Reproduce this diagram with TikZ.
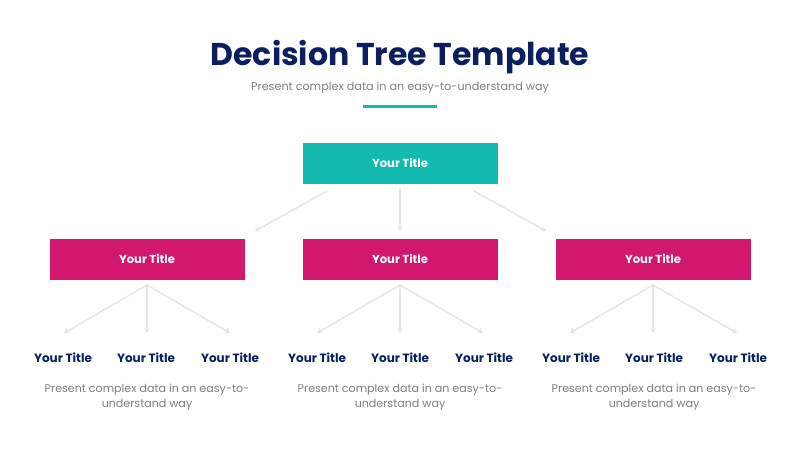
\documentclass[tikz,border=0pt]{standalone}
\usepackage{fontspec}
\setmainfont{Poppins}
\usepackage{tikz}
\usetikzlibrary{shapes,arrows.meta}
\definecolor{dtnavy}{HTML}{0B1F5E}
\definecolor{dtteal}{HTML}{12BAAF}
\definecolor{dtpink}{HTML}{D1176E}
\definecolor{dtgray}{HTML}{7F7F7F}
\definecolor{dtline}{HTML}{E6E6E6}
\newcommand{\dtbox}[3] {\node at (#1) (#2) [rectangle, fill=#3, minimum width=195pt, minimum height=41pt, text=white, font=\bfseries\fontsize{11.6}{14}\selectfont] {Your Title};}
\newcommand{\dtleaf}[2] {\node at (#1) (#2) [text=dtnavy, font=\bfseries\fontsize{12}{14}\selectfont] {Your Title};}
\newcommand{\dtnote}[2] {\node at (#1) (#2) [text=dtgray, align=center, font=\fontsize{11.1}{15}\selectfont] {Present complex data in an easy-to-\\understand way};}
\newcommand{\dtarrow}[2] {\draw [-{Stealth[length=5pt, width=6pt]}, dtline, line width=1.4pt] (#1) -- (#2);}

\begin{document}
\begin{tikzpicture}[x=1pt, y=-1pt]
\useasboundingbox (0,0) rectangle (800,450);
\fill [white] (0,0) rectangle (800,450);

\node at (400,57) (title) [text=dtnavy, font=\bfseries\fontsize{31.5}{38}\selectfont] {Decision Tree Template};
\node at (400,88) (subtitle) [text=dtgray, font=\fontsize{11.2}{14}\selectfont] {Present complex data in an easy-to-understand way};
\draw [dtteal, line width=3pt] (363,106) -- (437,106);

\dtbox {400,163} {root} {dtteal};
\dtbox {147,259} {left} {dtpink};
\dtbox {400,259} {mid} {dtpink};
\dtbox {653,259} {right} {dtpink};

\dtleaf {63,358} {la};
\dtleaf {146,358} {lb};
\dtleaf {230,358} {lc};
\dtleaf {317,358} {ma};
\dtleaf {400,358} {mb};
\dtleaf {484,358} {mc};
\dtleaf {571,358} {ra};
\dtleaf {654,358} {rb};
\dtleaf {738,358} {rc};

\dtnote {147,397} {lnote};
\dtnote {400,397} {mnote};
\dtnote {654,397} {rnote};

% fan out of the top box
\coordinate (rootl) at (327,191);
\coordinate (rootm) at (400,189);
\coordinate (rootr) at (474,191);
\coordinate (leftin) at (255,231);
\coordinate (midin) at (400,231);
\coordinate (rightin) at (546,231);
\dtarrow{rootl}{leftin};
\dtarrow{rootm}{midin};
\dtarrow{rootr}{rightin};

% fans out of the pink boxes
\coordinate (leftout) at (147,285);
\coordinate (midout) at (400,285);
\coordinate (rightout) at (653,285);
\coordinate (lain) at (64,333);
\coordinate (lbin) at (147,333);
\coordinate (lcin) at (230,333);
\coordinate (main) at (317,333);
\coordinate (mbin) at (400,333);
\coordinate (mcin) at (483,333);
\coordinate (rain) at (570,333);
\coordinate (rbin) at (653,333);
\coordinate (rcin) at (737,333);
\dtarrow{leftout}{lain};
\dtarrow{leftout}{lbin};
\dtarrow{leftout}{lcin};
\dtarrow{midout}{main};
\dtarrow{midout}{mbin};
\dtarrow{midout}{mcin};
\dtarrow{rightout}{rain};
\dtarrow{rightout}{rbin};
\dtarrow{rightout}{rcin};
\end{tikzpicture}
\end{document}
